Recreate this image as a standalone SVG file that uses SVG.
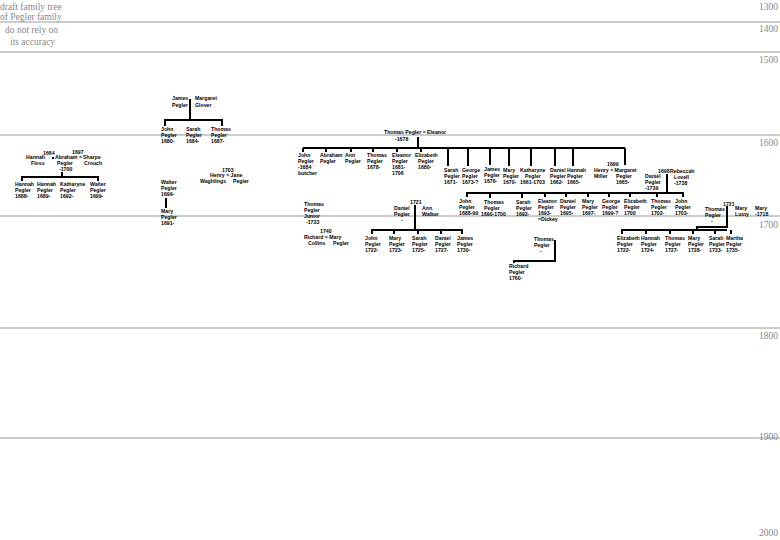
<svg xmlns="http://www.w3.org/2000/svg" width="780" height="540" viewBox="0 0 780 540">
<style>
.hd{font-family:"Liberation Serif",serif;font-size:9.5px;fill:#888}
.yr{font-family:"Liberation Serif",serif;font-size:9.5px;fill:#888;text-anchor:end}
.t{font-family:"Liberation Sans",sans-serif;font-size:5.2px;font-weight:bold;fill:#000}
.g{stroke:#ccc;stroke-width:2;fill:none}
.c{stroke:#000;stroke-width:2;fill:none}
</style>
<rect width="780" height="540" fill="#fff"/>
<g id="grid">
<line class="g" x1="0" y1="22" x2="780" y2="22"/>
<line class="g" x1="0" y1="52" x2="780" y2="52"/>
<line class="g" x1="0" y1="135" x2="780" y2="135"/>
<line class="g" x1="0" y1="216" x2="780" y2="216"/>
<line class="g" x1="0" y1="328" x2="780" y2="328"/>
<line class="g" x1="0" y1="438" x2="780" y2="438"/>
<text class="hd" x="0" y="10">draft family tree</text>
<text class="hd" x="0" y="20">of Pegler family</text>
<text class="hd" x="5" y="33">do not rely on</text>
<text class="hd" x="10" y="45">its accuracy</text>
<text class="yr" x="778" y="10">1300</text>
<text class="yr" x="778" y="32">1400</text>
<text class="yr" x="778" y="63">1500</text>
<text class="yr" x="778" y="146">1600</text>
<text class="yr" x="778" y="228">1700</text>
<text class="yr" x="778" y="339">1800</text>
<text class="yr" x="778" y="440">1900</text>
<text class="yr" x="778" y="536">2000</text>
</g>
<g id="connectors">
<path class="c" d="M190 99V120M165 126V120H222V126"/>
<path class="c" d="M62 172V177M22 181V177H98V181M52 158H54"/>
<path class="c" d="M166 198V208"/>
<path class="c" d="M418 137V148M303 148H625M303 148V152M326 148V152M351 148V152M373 148V152M397 148V152M421 148V152M448 148V166M468 148V166M490 148V165M509 148V166M531 148V166M555 148V166M573 148V166M625 148V165"/>
<path class="c" d="M667 174V193M467 197V193H683V197M490 193V198M522 193V198M545 193V197M566 193V197M588 193V197M609 193V197M630 193V197M657 193V197"/>
<path class="c" d="M415 205V230M372 234V230H462V234M394 230V234M418 230V234M441 230V234"/>
<path class="c" d="M727 206V227H697V230M622 234V230H727M646 230V234M670 230V234M693 230V234M715 230V234M731 230V234"/>
<path class="c" d="M555 240V261H514V263"/>
</g>
<g id="n-james"><text class="t" x="172" y="100">James</text><text class="t" x="172" y="107">Pegler</text><text class="t" x="195" y="100">Margaret</text><text class="t" x="195" y="107">Glover</text></g>
<g id="n-top-kids"><text class="t" x="161" y="131">John</text><text class="t" x="161" y="137">Pegler</text><text class="t" x="161" y="143">1680-</text>
<text class="t" x="186" y="131">Sarah</text><text class="t" x="186" y="137">Pegler</text><text class="t" x="186" y="143">1684-</text>
<text class="t" x="211" y="131">Thomas</text><text class="t" x="211" y="137">Pegler</text><text class="t" x="211" y="143">1687-</text></g>
<g id="n-abraham"><text class="t" x="43" y="155">1664</text><text class="t" x="72" y="154">1697</text>
<text class="t" x="26" y="159">Hannah</text><text class="t" x="31" y="165">Floss</text>
<text class="t" x="55" y="159">Abraham =</text><text class="t" x="57" y="165">Pegler</text><text class="t" x="59" y="171">-1700</text>
<text class="t" x="83" y="159">Sharpe</text><text class="t" x="84" y="165">Crouch</text></g>
<g id="n-abraham-kids">
<text class="t" x="15" y="186">Hannah</text><text class="t" x="15" y="192">Pegler</text><text class="t" x="15" y="198">1688-</text>
<text class="t" x="37" y="186">Hannah</text><text class="t" x="37" y="192">Pegler</text><text class="t" x="37" y="198">1689-</text>
<text class="t" x="60" y="186">Katharyne</text><text class="t" x="60" y="192">Pegler</text><text class="t" x="60" y="198">1692-</text>
<text class="t" x="90" y="186">Walter</text><text class="t" x="90" y="192">Pegler</text><text class="t" x="90" y="198">1699-</text></g>
<g id="n-walter"><text class="t" x="161" y="184">Walter</text><text class="t" x="161" y="190">Pegler</text><text class="t" x="161" y="196">1699-</text></g>
<g id="n-mary"><text class="t" x="161" y="213">Mary</text><text class="t" x="161" y="219">Pegler</text><text class="t" x="161" y="225">1691-</text></g>
<g id="n-henry1"><text class="t" x="222" y="172">1703</text><text class="t" x="210" y="177">Henry = Jane</text><text class="t" x="200" y="183">Waghlings</text><text class="t" x="233" y="183">Pegler</text></g>
<g id="n-thomas"><text class="t" x="384" y="134">Thomas Pegler = Eleanor</text><text class="t" x="395" y="141">-1678</text></g>
<g id="n-thomas-kids1">
<text class="t" x="298" y="157">John</text><text class="t" x="298" y="163">Pegler</text><text class="t" x="298" y="169">-1684</text><text class="t" x="298" y="175">butcher</text>
<text class="t" x="320" y="157">Abraham</text><text class="t" x="320" y="163">Pegler</text>
<text class="t" x="345" y="157">Ann</text><text class="t" x="345" y="163">Pegler</text>
<text class="t" x="367" y="157">Thomas</text><text class="t" x="367" y="163">Pegler</text><text class="t" x="367" y="169">1678-</text>
<text class="t" x="392" y="157">Eleanor</text><text class="t" x="392" y="163">Pegler</text><text class="t" x="392" y="169">1681-</text><text class="t" x="392" y="175">1706</text>
<text class="t" x="415" y="157">Elizabeth</text><text class="t" x="418" y="163">Pegler</text><text class="t" x="418" y="169">1680-</text></g>
<g id="n-thomas-kids2">
<text class="t" x="444" y="172">Sarah</text><text class="t" x="444" y="178">Pegler</text><text class="t" x="444" y="184">1671-</text>
<text class="t" x="462" y="172">George</text><text class="t" x="462" y="178">Pegler</text><text class="t" x="462" y="184">1673-?</text>
<text class="t" x="484" y="171">James</text><text class="t" x="484" y="177">Pegler</text><text class="t" x="484" y="183">1676-</text>
<text class="t" x="503" y="172">Mary</text><text class="t" x="503" y="178">Pegler</text><text class="t" x="503" y="184">1670-</text>
<text class="t" x="520" y="172">Katharyne</text><text class="t" x="525" y="178">Pegler</text><text class="t" x="520" y="184">1661-1703</text>
<text class="t" x="550" y="172">Daniel</text><text class="t" x="550" y="178">Pegler</text><text class="t" x="550" y="184">1662-</text>
<text class="t" x="567" y="172">Hannah</text><text class="t" x="567" y="178">Pegler</text><text class="t" x="567" y="184">1665-</text></g>
<g id="n-henry2"><text class="t" x="607" y="166">1699</text><text class="t" x="594" y="172">Henry = Margaret</text><text class="t" x="594" y="178">Miller</text><text class="t" x="616" y="178">Pegler</text><text class="t" x="616" y="184">1665-</text></g>
<g id="n-daniel"><text class="t" x="658" y="173">1698</text><text class="t" x="645" y="178">Daniel</text><text class="t" x="645" y="184">Pegler</text><text class="t" x="645" y="190">-1739</text>
<text class="t" x="670" y="173">Rebeccah</text><text class="t" x="674" y="179">Lovell</text><text class="t" x="674" y="185">-1738</text></g>
<g id="n-daniel-kids">
<text class="t" x="459" y="203">John</text><text class="t" x="459" y="209">Pegler</text><text class="t" x="459" y="215">1688-99</text>
<text class="t" x="484" y="204">Thomas</text><text class="t" x="484" y="210">Pegler</text><text class="t" x="481" y="216">1690-1700</text>
<text class="t" x="516" y="204">Sarah</text><text class="t" x="516" y="210">Pegler</text><text class="t" x="516" y="216">1692-</text>
<text class="t" x="538" y="203">Eleanor</text><text class="t" x="538" y="209">Pegler</text><text class="t" x="538" y="215">1693-</text><text class="t" x="538" y="221">=Dickey</text>
<text class="t" x="560" y="203">Daniel</text><text class="t" x="560" y="209">Pegler</text><text class="t" x="560" y="215">1695-</text>
<text class="t" x="582" y="203">Mary</text><text class="t" x="582" y="209">Pegler</text><text class="t" x="582" y="215">1697-</text>
<text class="t" x="602" y="203">George</text><text class="t" x="602" y="209">Pegler</text><text class="t" x="602" y="215">1699-?</text>
<text class="t" x="624" y="203">Elizabeth</text><text class="t" x="624" y="209">Pegler</text><text class="t" x="624" y="215">1700</text>
<text class="t" x="651" y="203">Thomas</text><text class="t" x="651" y="209">Pegler</text><text class="t" x="651" y="215">1702-</text>
<text class="t" x="675" y="203">John</text><text class="t" x="675" y="209">Pegler</text><text class="t" x="675" y="215">1703-</text></g>
<g id="n-thomas2"><text class="t" x="723" y="206">1721</text><text class="t" x="705" y="211">Thomas</text><text class="t" x="705" y="217">Pegler</text><text class="t" x="711" y="223">-</text>
<text class="t" x="735" y="210">Mary</text><text class="t" x="735" y="216">Lusty</text></g>
<g id="n-mary1718"><text class="t" x="755" y="210">Mary</text><text class="t" x="755" y="216">-1718</text></g>
<g id="n-thomas2-kids">
<text class="t" x="617" y="240">Elizabeth</text><text class="t" x="617" y="246">Pegler</text><text class="t" x="617" y="252">1722-</text>
<text class="t" x="641" y="240">Hannah</text><text class="t" x="641" y="246">Pegler</text><text class="t" x="641" y="252">1724-</text>
<text class="t" x="665" y="240">Thomas</text><text class="t" x="665" y="246">Pegler</text><text class="t" x="665" y="252">1727-</text>
<text class="t" x="688" y="240">Mary</text><text class="t" x="688" y="246">Pegler</text><text class="t" x="688" y="252">1728-</text>
<text class="t" x="709" y="240">Sarah</text><text class="t" x="709" y="246">Pegler</text><text class="t" x="709" y="252">1733-</text>
<text class="t" x="726" y="240">Martha</text><text class="t" x="726" y="246">Pegler</text><text class="t" x="726" y="252">1735-</text></g>
<g id="n-thomas3"><text class="t" x="534" y="241">Thomas</text><text class="t" x="534" y="247">Pegler</text><text class="t" x="540" y="253">-</text></g>
<g id="n-richard1"><text class="t" x="509" y="268">Richard</text><text class="t" x="509" y="274">Pegler</text><text class="t" x="509" y="280">1760-</text></g>
<g id="n-thomasjnr"><text class="t" x="304" y="206">Thomas</text><text class="t" x="304" y="212">Pegler</text><text class="t" x="304" y="218">Junior</text><text class="t" x="306" y="224">-1733</text></g>
<g id="n-richard2"><text class="t" x="320" y="233">1740</text><text class="t" x="304" y="239">Richard = Mary</text><text class="t" x="308" y="245">Collins</text><text class="t" x="333" y="245">Pegler</text></g>
<g id="n-daniel2"><text class="t" x="410" y="204">1721</text><text class="t" x="394" y="210">Daniel</text><text class="t" x="394" y="216">Pegler</text><text class="t" x="401" y="222">-</text>
<text class="t" x="422" y="210">Ann</text><text class="t" x="422" y="216">Walker</text></g>
<g id="n-daniel2-kids">
<text class="t" x="365" y="240">John</text><text class="t" x="365" y="246">Pegler</text><text class="t" x="365" y="252">1722-</text>
<text class="t" x="389" y="240">Mary</text><text class="t" x="389" y="246">Pegler</text><text class="t" x="389" y="252">1723-</text>
<text class="t" x="412" y="240">Sarah</text><text class="t" x="412" y="246">Pegler</text><text class="t" x="412" y="252">1725-</text>
<text class="t" x="435" y="240">Daniel</text><text class="t" x="435" y="246">Pegler</text><text class="t" x="435" y="252">1727-</text>
<text class="t" x="457" y="240">James</text><text class="t" x="457" y="246">Pegler</text><text class="t" x="457" y="252">1730-</text></g>
</svg>
